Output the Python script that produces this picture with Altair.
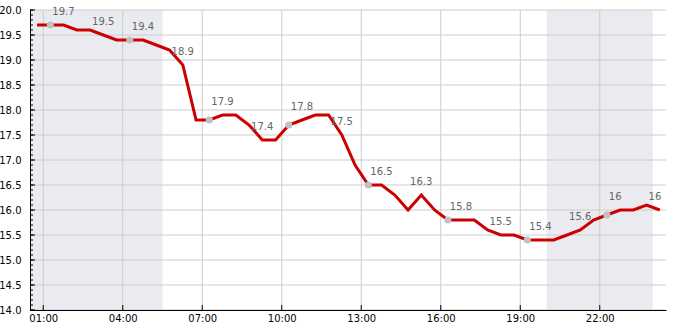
import altair as alt
import pandas as pd
import numpy as np

# ---- data ----
line_times = ["00:46", "01:16", "01:46", "02:16", "02:46", "03:16", "03:46", "04:16",
              "04:46", "05:16", "05:46", "06:16", "06:46", "07:16", "07:46", "08:16",
              "08:46", "09:16", "09:46", "10:16", "10:46", "11:16", "11:46", "12:16",
              "12:46", "13:16", "13:46", "14:16", "14:46", "15:16", "15:46", "16:16",
              "16:46", "17:16", "17:46", "18:16", "18:46", "19:16", "19:46", "20:16",
              "20:46", "21:16", "21:46", "22:16", "22:46", "23:16", "23:46", "24:16"]
line_values = [19.7, 19.7, 19.7, 19.6, 19.6, 19.5, 19.4, 19.4,
               19.4, 19.3, 19.2, 18.9, 17.8, 17.8, 17.9, 17.9,
               17.7, 17.4, 17.4, 17.7, 17.8, 17.9, 17.9, 17.5,
               16.9, 16.5, 16.5, 16.3, 16.0, 16.3, 16.0, 15.8,
               15.8, 15.8, 15.6, 15.5, 15.5, 15.4, 15.4, 15.4,
               15.5, 15.6, 15.8, 15.9, 16.0, 16.0, 16.1, 16.0]

marker_times = ["01:16", "04:16", "07:16", "10:16", "13:16", "16:16", "19:16", "22:16"]

label_times = ["01:16", "02:46", "04:16", "05:46", "07:16", "08:46", "10:16", "11:46",
               "13:16", "14:46", "16:16", "17:46", "19:16", "20:46", "22:16", "23:46"]
label_values = [19.7, 19.5, 19.4, 18.9, 17.9, 17.4, 17.8, 17.5,
                16.5, 16.3, 15.8, 15.5, 15.4, 15.6, 16.0, 16.0]

band_starts = ["00:30", "20:00"]
band_ends = ["05:30", "24:00"]

tick_times = ["01:00", "04:00", "07:00", "10:00", "13:00", "16:00", "19:00", "22:00"]
y_major = [14.0, 14.5, 15.0, 15.5, 16.0, 16.5, 17.0, 17.5, 18.0, 18.5, 19.0, 19.5, 20.0]
y_minor = [round(v, 1) for v in np.arange(14.0, 20.01, 0.1)]


def iso(hhmm):
    h, m = (int(p) for p in hhmm.split(":"))
    day = 1 + h // 24
    return f"2024-01-{day:02d}T{h % 24:02d}:{m:02d}:00"


def dt(hhmm):
    h, m = (int(p) for p in hhmm.split(":"))
    return alt.DateTime(year=2024, month=1, date=1 + h // 24, hours=h % 24, minutes=m)


W, H = 636, 300
FONT = "DejaVu Sans"

line_df = pd.DataFrame({"t": [iso(t) for t in line_times], "v": line_values})
lookup = dict(zip(line_times, line_values))
marker_df = pd.DataFrame({"t": [iso(t) for t in marker_times],
                          "v": [lookup[t] for t in marker_times]})
label_df = pd.DataFrame({"t": [iso(t) for t in label_times], "v": label_values,
                         "txt": [f"{v:g}" for v in label_values]})
band_df = pd.DataFrame({"t": [iso(t) for t in band_starts], "t2": [iso(t) for t in band_ends]})
tick_df = pd.DataFrame({"t": [iso(t) for t in tick_times]})
ymaj_df = pd.DataFrame({"v": y_major})
ymin_df = pd.DataFrame({"v": y_minor})

xscale = alt.Scale(domain=[dt("00:30"), dt("24:30")])
yscale = alt.Scale(domain=[14, 20], nice=False, zero=False)

xaxis = alt.Axis(values=[dt(t) for t in tick_times], format="%H:%M", grid=False,
                 ticks=False, tickSize=0, domainColor="black", domainWidth=1,
                 labelFontSize=10, labelColor="black", labelFont=FONT,
                 labelPadding=3, title=None, zindex=1, labelFlush=False)
yaxis = alt.Axis(values=y_major, format=".1f", grid=False, ticks=False, tickSize=0,
                 domainColor="black", domainWidth=1, labelFontSize=10,
                 labelColor="black", labelFont=FONT, labelPadding=9,
                 title=None, zindex=1)


def X(field="t"):
    return alt.X(f"{field}:T", scale=xscale, axis=xaxis)


def Y(field="v"):
    return alt.Y(f"{field}:Q", scale=yscale, axis=yaxis)


bands = alt.Chart(band_df).mark_rect(color="#eaebf0").encode(
    x=X("t"), x2="t2:T", y=alt.value(0), y2=alt.value(H))

vgrid = alt.Chart(tick_df).mark_rule(color="#cccccc", strokeWidth=1).encode(
    x=X("t"), y=alt.value(0), y2=alt.value(H))

hgrid = alt.Chart(ymaj_df).mark_rule(color="#cccccc", strokeWidth=1).encode(
    y=Y("v"), x=alt.value(0), x2=alt.value(W))

xticks = alt.Chart(tick_df).mark_rule(color="black", strokeWidth=1).encode(
    x=X("t"), y=alt.value(H - 5), y2=alt.value(H))

yminor = alt.Chart(ymin_df).mark_rule(color="black", strokeWidth=1).encode(
    y=Y("v"), x=alt.value(0), x2=alt.value(3))

ymajor = alt.Chart(ymaj_df).mark_rule(color="black", strokeWidth=1).encode(
    y=Y("v"), x=alt.value(0), x2=alt.value(5))

line = alt.Chart(line_df).mark_line(color="#cc0000", strokeWidth=3,
                                    interpolate="linear").encode(x=X("t"), y=Y("v"))

markers = alt.Chart(marker_df).mark_circle(color="#c0c0c0", size=50, opacity=1).encode(
    x=X("t"), y=Y("v"))

labels = alt.Chart(label_df).mark_text(align="left", baseline="alphabetic", dx=2, dy=-10,
                                       fontSize=10, color="#666666", font=FONT).encode(
    x=X("t"), y=Y("v"), text="txt:N")

chart = alt.layer(bands, vgrid, hgrid, xticks, yminor, ymajor, line, markers, labels).properties(
    width=W, height=H,
    autosize=alt.AutoSizeParams(type="none"),
    padding={"left": 30, "top": 10, "right": 19, "bottom": 20},
).configure_view(stroke=None)

chart.save("out.html", embed_options={"renderer": "svg", "actions": False})
